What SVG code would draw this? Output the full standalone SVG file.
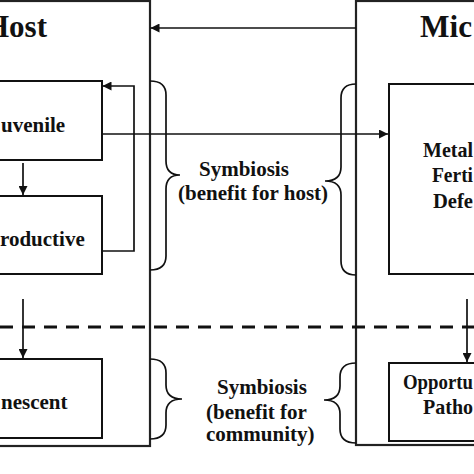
<svg xmlns="http://www.w3.org/2000/svg" width="474" height="474" viewBox="0 0 474 474">
<defs>
<style>
.box{fill:none;stroke:#111;stroke-width:2}
.outer{fill:none;stroke:#222;stroke-width:2.2}
.ln{fill:none;stroke:#111;stroke-width:1.7}
.br{fill:none;stroke:#111;stroke-width:1.7}
.t{font-family:"Liberation Serif","Times New Roman",serif;font-weight:bold;font-size:21px;fill:#111}
.title{font-family:"Liberation Serif","Times New Roman",serif;font-weight:bold;font-size:31px;fill:#111}
</style>
<marker id="ah" viewBox="0 0 10 10" refX="10" refY="5" markerWidth="10" markerHeight="9" markerUnits="userSpaceOnUse" orient="auto">
<path d="M0,0 L10,5 L0,10 Z" fill="#111"/>
</marker>
</defs>
<rect width="474" height="474" fill="#fff"/>

<g id="host">
<rect class="outer" x="-10" y="1" width="160" height="445"/>
<text class="title" x="47" y="37" text-anchor="end">Host</text>
</g>
<g id="microbe">
<rect class="outer" x="356" y="1" width="130" height="444"/>
<text class="title" x="420" y="37" textLength="52" lengthAdjust="spacingAndGlyphs">Mic</text>
</g>

<g id="juvenile">
<rect class="box" x="-10" y="81" width="112" height="79"/>
<text class="t" x="1" y="132">uvenile</text>
</g>
<g id="reproductive">
<rect class="box" x="-10" y="196" width="112" height="78"/>
<text class="t" x="0" y="246">roductive</text>
</g>
<g id="senescent">
<rect class="box" x="-10" y="359" width="112" height="79"/>
<text class="t" x="1" y="409">nescent</text>
</g>
<g id="benefits">
<rect class="box" x="389" y="84" width="100" height="190"/>
<text class="t" x="423" y="157" textLength="50" lengthAdjust="spacingAndGlyphs">Metal</text>
<text class="t" x="432" y="182" textLength="41" lengthAdjust="spacingAndGlyphs">Ferti</text>
<text class="t" x="433" y="208" textLength="40" lengthAdjust="spacingAndGlyphs">Defe</text>
</g>
<g id="pathogen">
<rect class="box" x="389" y="363" width="100" height="78"/>
<text class="t" x="403" y="389" textLength="70" lengthAdjust="spacingAndGlyphs">Opportu</text>
<text class="t" x="423" y="414" textLength="50" lengthAdjust="spacingAndGlyphs">Patho</text>
</g>

<g id="symbiosis-host">
<path class="br" d="M150,81 Q166,81 166,95 L166,161 Q166,175 180,175 Q166,175 166,189 L166,256 Q166,270 150,270"/>
<path class="br" d="M356,84 Q341,84 341,98 L341,167 Q341,181 325,181 Q341,181 341,195 L341,261 Q341,275 356,275"/>
<text class="t" x="199" y="176">Symbiosis</text>
<text class="t" x="178" y="200">(benefit for host)</text>
</g>
<g id="symbiosis-community">
<path class="br" d="M150,359 Q166,359 166,373 L166,385 Q166,399 182,399 Q166,399 166,413 L166,425 Q166,439 150,439"/>
<path class="br" d="M356,363 Q340,363 340,377 L340,386 Q340,400 324,400 Q340,400 340,414 L340,429 Q340,443 356,443"/>
<text class="t" x="217" y="394">Symbiosis</text>
<text class="t" x="206" y="419">(benefit for</text>
<text class="t" x="206" y="441">community)</text>
</g>

<g id="connectors">
<line x1="0" y1="327" x2="474" y2="327" stroke="#111" stroke-width="3" stroke-dasharray="13,9"/>
<line class="ln" x1="356" y1="28" x2="150.5" y2="28" marker-end="url(#ah)"/>
<polyline class="ln" points="102,251 134,251 134,86 102.5,86" marker-end="url(#ah)"/>
<line class="ln" x1="102" y1="134" x2="388" y2="134" marker-end="url(#ah)"/>
<line class="ln" x1="23" y1="163" x2="23" y2="195" marker-end="url(#ah)"/>
<line class="ln" x1="23" y1="299" x2="23" y2="358" marker-end="url(#ah)"/>
<line class="ln" x1="467" y1="299" x2="467" y2="362" marker-end="url(#ah)"/>
</g>
</svg>
